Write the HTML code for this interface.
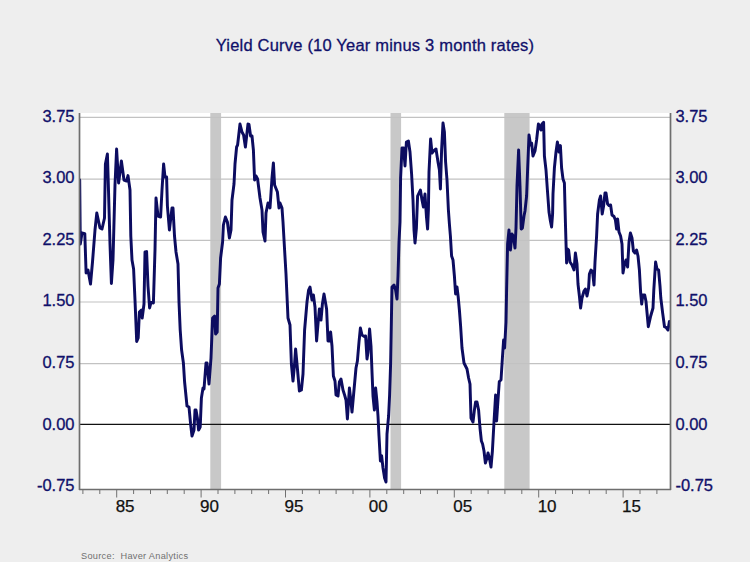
<!DOCTYPE html>
<html><head><meta charset="utf-8"><title>Yield Curve</title>
<style>
html,body{margin:0;padding:0;background:#eeeeee;}
body{width:750px;height:562px;overflow:hidden;font-family:"Liberation Sans",sans-serif;}
svg{display:block}
text{font-family:"Liberation Sans",sans-serif;}
.yl{font-size:16.5px;fill:#10106a;stroke:#10106a;stroke-width:0.3px;}
.xl{font-size:17px;fill:#111111;stroke:#111111;stroke-width:0.25px;}
.ti{font-size:16.5px;fill:#10106a;letter-spacing:0.2px;stroke:#10106a;stroke-width:0.3px;}
.src{font-size:9.2px;fill:#707070;letter-spacing:0.3px}
</style></head><body>
<svg width="750" height="562" viewBox="0 0 750 562">
<rect x="0" y="0" width="750" height="562" fill="#eeeeee"/>
<rect x="79.5" y="113" width="591.0" height="376.5" fill="#ffffff"/>
<rect x="210.3" y="113" width="10.799999999999983" height="376.5" fill="#c8c8c8"/>
<rect x="390.5" y="113" width="10.600000000000023" height="376.5" fill="#c8c8c8"/>
<rect x="504.3" y="113" width="25.30000000000001" height="376.5" fill="#c8c8c8"/>
<line x1="79.5" x2="670.5" y1="117.4" y2="117.4" stroke="#c2c2c2" stroke-width="1.1"/>
<line x1="79.5" x2="670.5" y1="179.1" y2="179.1" stroke="#c2c2c2" stroke-width="1.1"/>
<line x1="79.5" x2="670.5" y1="240.4" y2="240.4" stroke="#c2c2c2" stroke-width="1.1"/>
<line x1="79.5" x2="670.5" y1="302.0" y2="302.0" stroke="#c2c2c2" stroke-width="1.1"/>
<line x1="79.5" x2="670.5" y1="363.6" y2="363.6" stroke="#c2c2c2" stroke-width="1.1"/>
<line x1="79.5" x2="670.5" y1="424.45" y2="424.45" stroke="#111111" stroke-width="1.2"/>
<clipPath id="pc"><rect x="79.5" y="113" width="591.0" height="376.5"/></clipPath>
<path d="M79.7,180 L80.3,244 L82,233 L84.8,233.6 L86.1,273 L88,270 L90.5,284 L92.5,262 L95,230 L96.8,213 L100,228 L102,229 L104.5,218 L105.4,164 L107.4,154 L108.2,180 L110,244 L111.4,283.5 L113,260 L115,185 L116.6,149 L118.6,183 L121.4,161 L124,180 L126.6,181 L128,175.6 L130,190 L130.8,236 L132,260 L133.6,269 L135,300 L136.7,341.5 L138.2,338 L139.4,312 L141.4,310 L142.2,318 L144,304 L145,252 L146.6,251.6 L148,286 L149.6,308 L151,302.4 L153.4,303 L155,250 L156,198 L158,216 L160.6,217 L162,190 L163.6,164 L165,177 L166.6,177 L167.4,206 L169.4,230 L172,208 L173,208 L174.5,236 L176,252 L178,264 L179,302 L180.2,330 L181.6,350 L183.4,363 L184.6,382 L187,406 L189,407 L190.6,424 L192,436 L194,430 L195,410 L196,410 L197.4,418 L198.6,430 L200.2,427 L201.4,398 L203,388 L204,389 L206,363 L207,363 L209,384 L211,358 L212.6,318 L214.6,316 L215.6,334 L217.2,332 L218,288 L219.4,284 L220.6,258 L222.6,242 L223.4,225 L225.4,217 L227.4,222 L229.4,238 L231,230 L232,200 L234,184 L235,164 L236.6,147 L237.6,145 L240,124 L242,132 L243.6,135 L245.4,147 L248,124 L249,124.4 L250.6,136 L252,136 L253.4,150 L254.6,180 L256,176 L257.6,179 L260,198 L262,210 L263,232 L265,241 L266,213 L268,203 L270,208 L272,178 L273.4,163 L274.6,185 L277.4,192 L279,208 L280,203 L282,208 L283,222 L284.6,250 L286,274 L288,318 L290,325 L291.4,364 L293,381 L294.4,366 L295.6,349 L297,364 L299.4,391 L301.4,390 L303,374 L304.6,330 L307,302 L308.6,290 L310,287 L312,300 L313.4,295 L315,307 L316.6,341 L318,324 L319.4,309 L321,320 L322.4,304 L324,294 L325.4,302 L326.6,309 L328,341 L329.4,341 L330.6,332 L332,346 L333.4,376 L335,381 L336,395 L338,396 L339.4,382 L341,379 L343,390 L344.6,395 L346,400 L347.4,419 L349.4,388 L351,402 L352,412 L354,390 L356,368 L357.4,361 L359,342 L360.4,328 L362,335 L364,336.4 L365.6,336 L367,359 L368,352 L369.6,329 L371,346 L372,372 L373,396 L374.4,410 L375.6,388 L377,402 L378,416 L379,436 L380.4,461 L381.6,455.6 L383,468 L384.6,478 L386,482 L387,434 L388.6,416 L389.6,395 L390.6,364 L391.4,320 L392,287 L394,285 L395.6,290 L397,299 L398,276 L399,242 L400,222 L400.6,178 L402,148 L403.6,148 L405,166 L406.4,142 L408.4,141 L410,152 L411.6,174 L413,200 L414,230 L415,243 L416.4,228 L417.6,196 L420.4,190 L422,200 L423.4,207 L425,194 L426.4,216 L427.6,229 L428.4,210 L429,172 L430.6,139 L432,153 L433.6,151 L436,149 L438,162 L439.4,170 L440.4,189 L441.6,150 L443,123 L444.4,132 L445.6,162 L447,180 L448.4,210 L449.4,224 L450.4,236 L451.6,256 L453,260 L454.4,276 L455.6,294 L457,287 L458.2,297 L459.4,310 L460.6,326 L462,348 L464,363 L467,369 L468.6,378 L470,384 L471,418 L473,422 L474.4,410 L475.6,402 L477,402 L478.6,410 L480,428 L481.4,441 L482.6,444 L484,451 L485.4,463 L487,458 L488,453 L489.4,458 L491,467 L492.4,451 L494,422 L495.6,395 L496.6,421 L498,400 L499.3,381.5 L501,380 L502.4,358 L503.6,340 L504.6,348 L506,322 L506.6,290 L507.6,244 L509,230 L510.4,250 L512,234 L513.4,236 L515,248 L516,228 L517,186 L518.6,150 L520,186 L521.2,229 L522.4,228 L524,216 L525,211 L526.6,196 L527.6,170 L529,135 L530.6,145 L531.6,143 L533,156 L535,151 L536.6,140 L538.4,124 L539.4,125.6 L541,130 L542,124 L543.6,122.4 L544.4,156 L546,170 L547.4,190 L549,212 L550.4,221 L551.6,227 L552.6,214 L553,194 L554.4,168 L556,152 L557.4,142 L559,152 L560.4,145.6 L561.6,168 L563,179 L564.4,183 L565.4,222 L566.6,263 L567.6,249 L568.6,250 L570,262 L572,265 L574,270 L575.4,253 L577,264 L578,284 L579.4,296 L580.6,308 L582,298 L584,291 L585.4,289 L587,296 L588.6,288 L589.4,274 L591,270 L592.6,272 L594,285 L595,262 L596.6,236 L597.6,214 L599.4,200 L600.6,196 L602.2,214 L603.6,206 L605,193 L606,193 L607.6,204 L609,205.6 L610.6,205 L612,215 L614,216.5 L615.4,220 L616.6,229 L617.6,219 L619,232 L620.6,236 L622,244 L623,273 L624.4,265 L626,260 L627.6,267 L629,242 L630.4,233 L632,238 L633.4,251 L635,253 L636.6,250 L638,256 L639.4,270 L640.6,292 L641.7,304 L642.8,295 L644.7,295 L646,301.5 L648.3,326.7 L650.7,316 L653,308 L653.8,290 L655.6,262 L657,269 L658.6,270 L660,286 L660.8,298 L662.7,313.4 L664.5,326.7 L666,327.4 L668,330 L669.4,321.5" clip-path="url(#pc)" fill="none" stroke="#0c0c60" stroke-width="2.95" stroke-linejoin="round" stroke-linecap="round"/>
<line x1="79.5" x2="79.5" y1="113" y2="490.0" stroke="#6e6e6e" stroke-width="1.7"/>
<line x1="670.5" x2="670.5" y1="113" y2="490.0" stroke="#6e6e6e" stroke-width="1.7"/>
<line x1="79.0" x2="671.0" y1="489.5" y2="489.5" stroke="#6e6e6e" stroke-width="1.7"/>
<line x1="82.9" x2="82.9" y1="489.5" y2="494.0" stroke="#707070" stroke-width="1"/>
<line x1="99.8" x2="99.8" y1="489.5" y2="494.0" stroke="#707070" stroke-width="1"/>
<line x1="116.7" x2="116.7" y1="489.5" y2="497.5" stroke="#707070" stroke-width="1"/>
<line x1="133.6" x2="133.6" y1="489.5" y2="494.0" stroke="#707070" stroke-width="1"/>
<line x1="150.5" x2="150.5" y1="489.5" y2="494.0" stroke="#707070" stroke-width="1"/>
<line x1="167.3" x2="167.3" y1="489.5" y2="494.0" stroke="#707070" stroke-width="1"/>
<line x1="184.2" x2="184.2" y1="489.5" y2="494.0" stroke="#707070" stroke-width="1"/>
<line x1="201.1" x2="201.1" y1="489.5" y2="497.5" stroke="#707070" stroke-width="1"/>
<line x1="218.0" x2="218.0" y1="489.5" y2="494.0" stroke="#707070" stroke-width="1"/>
<line x1="234.9" x2="234.9" y1="489.5" y2="494.0" stroke="#707070" stroke-width="1"/>
<line x1="251.7" x2="251.7" y1="489.5" y2="494.0" stroke="#707070" stroke-width="1"/>
<line x1="268.6" x2="268.6" y1="489.5" y2="494.0" stroke="#707070" stroke-width="1"/>
<line x1="285.5" x2="285.5" y1="489.5" y2="497.5" stroke="#707070" stroke-width="1"/>
<line x1="302.4" x2="302.4" y1="489.5" y2="494.0" stroke="#707070" stroke-width="1"/>
<line x1="319.3" x2="319.3" y1="489.5" y2="494.0" stroke="#707070" stroke-width="1"/>
<line x1="336.1" x2="336.1" y1="489.5" y2="494.0" stroke="#707070" stroke-width="1"/>
<line x1="353.0" x2="353.0" y1="489.5" y2="494.0" stroke="#707070" stroke-width="1"/>
<line x1="369.9" x2="369.9" y1="489.5" y2="497.5" stroke="#707070" stroke-width="1"/>
<line x1="386.8" x2="386.8" y1="489.5" y2="494.0" stroke="#707070" stroke-width="1"/>
<line x1="403.7" x2="403.7" y1="489.5" y2="494.0" stroke="#707070" stroke-width="1"/>
<line x1="420.5" x2="420.5" y1="489.5" y2="494.0" stroke="#707070" stroke-width="1"/>
<line x1="437.4" x2="437.4" y1="489.5" y2="494.0" stroke="#707070" stroke-width="1"/>
<line x1="454.3" x2="454.3" y1="489.5" y2="497.5" stroke="#707070" stroke-width="1"/>
<line x1="471.2" x2="471.2" y1="489.5" y2="494.0" stroke="#707070" stroke-width="1"/>
<line x1="488.1" x2="488.1" y1="489.5" y2="494.0" stroke="#707070" stroke-width="1"/>
<line x1="504.9" x2="504.9" y1="489.5" y2="494.0" stroke="#707070" stroke-width="1"/>
<line x1="521.8" x2="521.8" y1="489.5" y2="494.0" stroke="#707070" stroke-width="1"/>
<line x1="538.7" x2="538.7" y1="489.5" y2="497.5" stroke="#707070" stroke-width="1"/>
<line x1="555.6" x2="555.6" y1="489.5" y2="494.0" stroke="#707070" stroke-width="1"/>
<line x1="572.5" x2="572.5" y1="489.5" y2="494.0" stroke="#707070" stroke-width="1"/>
<line x1="589.3" x2="589.3" y1="489.5" y2="494.0" stroke="#707070" stroke-width="1"/>
<line x1="606.2" x2="606.2" y1="489.5" y2="494.0" stroke="#707070" stroke-width="1"/>
<line x1="623.1" x2="623.1" y1="489.5" y2="497.5" stroke="#707070" stroke-width="1"/>
<line x1="640.0" x2="640.0" y1="489.5" y2="494.0" stroke="#707070" stroke-width="1"/>
<line x1="656.9" x2="656.9" y1="489.5" y2="494.0" stroke="#707070" stroke-width="1"/>
<text x="74.5" y="121.6" text-anchor="end" class="yl">3.75</text>
<text x="675.4" y="121.6" text-anchor="start" class="yl">3.75</text>
<text x="74.5" y="183.2" text-anchor="end" class="yl">3.00</text>
<text x="675.4" y="183.2" text-anchor="start" class="yl">3.00</text>
<text x="74.5" y="244.7" text-anchor="end" class="yl">2.25</text>
<text x="675.4" y="244.7" text-anchor="start" class="yl">2.25</text>
<text x="74.5" y="306.3" text-anchor="end" class="yl">1.50</text>
<text x="675.4" y="306.3" text-anchor="start" class="yl">1.50</text>
<text x="74.5" y="367.9" text-anchor="end" class="yl">0.75</text>
<text x="675.4" y="367.9" text-anchor="start" class="yl">0.75</text>
<text x="74.5" y="429.5" text-anchor="end" class="yl">0.00</text>
<text x="675.4" y="429.5" text-anchor="start" class="yl">0.00</text>
<text x="74.5" y="491.0" text-anchor="end" class="yl">-0.75</text>
<text x="675.4" y="491.0" text-anchor="start" class="yl">-0.75</text>
<text x="125.1" y="512" text-anchor="middle" class="xl">85</text>
<text x="209.5" y="512" text-anchor="middle" class="xl">90</text>
<text x="293.9" y="512" text-anchor="middle" class="xl">95</text>
<text x="378.3" y="512" text-anchor="middle" class="xl">00</text>
<text x="462.7" y="512" text-anchor="middle" class="xl">05</text>
<text x="547.1" y="512" text-anchor="middle" class="xl">10</text>
<text x="631.5" y="512" text-anchor="middle" class="xl">15</text>
<text x="375" y="50.7" text-anchor="middle" class="ti">Yield Curve (10 Year minus 3 month rates)</text>
<text x="81" y="559" class="src" style="white-space:pre">Source:  Haver Analytics</text>
</svg>
</body></html>
